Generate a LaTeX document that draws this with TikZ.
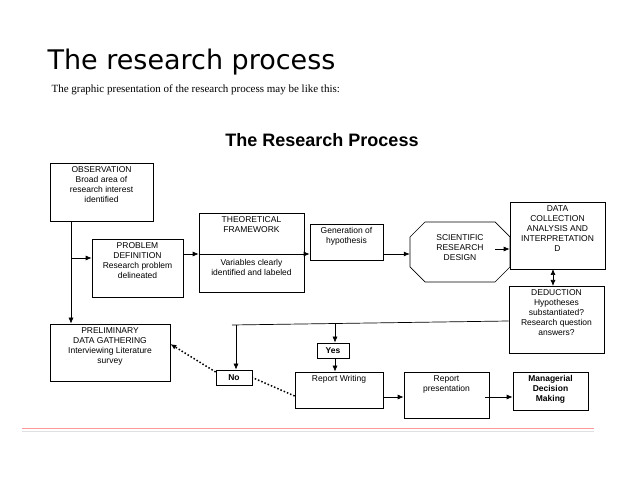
\documentclass[tikz,border=0pt]{standalone}
\usepackage{fontspec}
\setmainfont{Liberation Sans}
\newfontfamily\serif{Liberation Serif}
\newfontfamily\titlef{DejaVu Sans}
\usetikzlibrary{arrows.meta}
\begin{document}
\begin{tikzpicture}[x=1pt,y=-1pt,
  box/.style={draw,line width=0.7pt,inner sep=0pt},
  txt/.style={anchor=north,align=center,font=\fontsize{8.5}{10}\selectfont,inner sep=2pt,yshift=-1.5pt},
  arr/.style={-{Latex[length=6pt,width=5pt]},line width=0.7pt},
  ln/.style={line width=0.7pt},
  dot/.style={line width=1.5pt,dotted}]
\useasboundingbox (0,0) rectangle (638,478);
\fill[white] (0,0) rectangle (638,478);
\node[anchor=west,font=\titlef\fontsize{27}{30}\selectfont] (title) at (44,62) {The research process};
\node[anchor=west,font=\serif\fontsize{11}{12}\selectfont] (sub) at (48,90) {The graphic presentation of the research process may be like this:};
\node[font=\bfseries\fontsize{18}{20}\selectfont] (head) at (322,140) {The Research Process};
% boxes
\node[box,minimum width=103,minimum height=58] (obs) at (101.5,192) {};
\node[txt] (obst) at (obs.north) {OBSERVATION\\Broad area of\\research interest\\identified};
\node[box,minimum width=91,minimum height=58] (pd) at (137.5,268) {};
\node[txt] (pdt) at (pd.north) {PROBLEM\\DEFINITION\\Research problem\\delineated};
\node[box,minimum width=105,minimum height=79] (tf) at (251.5,252.5) {};
\node[txt] (tft) at (tf.north) {THEORETICAL\\FRAMEWORK};
\node[txt] (tfb) at (251.5,256) {Variables clearly\\identified and labeled};
\node[box,minimum width=73,minimum height=36] (gen) at (346.5,242) {};
\node[txt] (gent) at (gen.north) {Generation of\\hypothesis};
\node[minimum width=100,minimum height=60,inner sep=0pt] (srd) at (460,252) {};
\draw[line width=0.7pt] (425,222) -- (495,222) -- (510,237) -- (510,267) -- (495,282) -- (425,282) -- (410,267) -- (410,237) -- cycle;
\node[txt,anchor=center,yshift=1.5pt] (srdt) at (460,248) {SCIENTIFIC\\RESEARCH\\DESIGN};
\node[box,minimum width=95,minimum height=67] (dc) at (557.5,235.5) {};
\node[txt] (dct) at (dc.north) {DATA\\COLLECTION\\ANALYSIS AND\\INTERPRETATION\\D};
\node[box,minimum width=95,minimum height=67] (ded) at (556.5,319.5) {};
\node[txt] (dedt) at (ded.north) {DEDUCTION\\Hypotheses\\substantiated?\\Research question\\answers?};
\node[box,minimum width=120,minimum height=57] (pre) at (110,352.5) {};
\node[txt] (pret) at (pre.north) {PRELIMINARY\\DATA GATHERING\\Interviewing Literature\\survey};
\node[box,minimum width=32,minimum height=15,font=\bfseries\fontsize{8.5}{9}\selectfont] (yes) at (333,350.5) {Yes};
\node[box,minimum width=36,minimum height=15,font=\bfseries\fontsize{8.5}{9}\selectfont] (no) at (234,377.5) {No};
\node[box,minimum width=88,minimum height=36] (rw) at (339,390) {};
\node[txt] (rwt) at (rw.north) {Report Writing};
\node[box,minimum width=85,minimum height=46] (rp) at (446.5,395) {};
\node[txt] (rpt) at (rp.north) {Report\\presentation};
\node[box,minimum width=75,minimum height=38] (md) at (550.5,391) {};
\node[txt,font=\bfseries\fontsize{8.5}{10}\selectfont] (mdt) at (md.north) {Managerial\\Decision\\Making};
% connectors
\coordinate (v1) at (71,258);
\draw[arr] (71,221) -- (pre.north -| 71,0);
\draw[arr] (v1) -- (pd.west |- v1);
\draw[arr] (pd.east |- 0,254) -- (tf.west |- 0,254);
\draw[arr] (tf.west |- 0,254) -- (gen.west |- 0,254);
\draw[arr] (gen.east |- 0,254) -- (srd.west |- 0,254);
\draw[arr] (495,249) -- (dc.west |- 0,249);
\draw[{Latex[length=6pt,width=5pt]}-{Latex[length=6pt,width=5pt]},line width=0.7pt] (553,269) -- (553,286);
\coordinate (l0) at (232,325);
\draw[ln] (ded.west |- 0,321) -- (l0);
\draw[arr] (236,325) -- (no.north -| 236,0);
\draw[arr] (335,323) -- (yes.north -| 335,0);
\draw[arr] (yes.south -| 335,0) -- (rw.north -| 335,0);
\draw[dot] (rw.west |- 0,396) -- (no.east);
\draw[dot,-{Latex[length=6pt,width=5pt]}] (no.west |- 0,372) -- (pre.east |- 0,344);
\draw[arr] (rw.east |- 0,397) -- (rp.west |- 0,397);
\draw[arr] (485,397) -- (md.west |- 0,397);
\draw[red!40,line width=0.8pt] (22,428) -- (594,428);
\draw[black!12,line width=0.6pt] (22,431) -- (594,431);
\end{tikzpicture}
\end{document}
